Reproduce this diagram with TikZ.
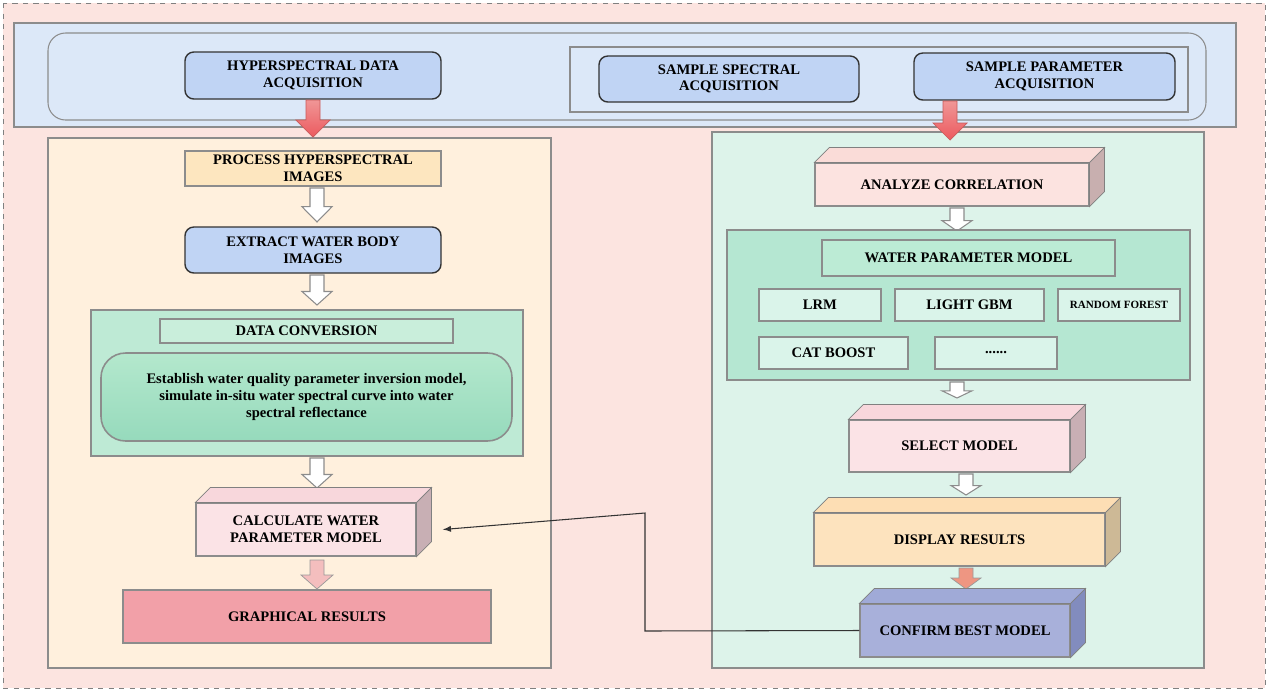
\documentclass[tikz,border=0pt]{standalone}
\usepackage{fontspec}
\setmainfont{Liberation Serif}
\definecolor{bgpink}{RGB}{252,228,224}
\definecolor{bandblue}{RGB}{220,232,248}
\definecolor{boxblue}{RGB}{192,212,244}
\definecolor{lpanel}{RGB}{255,240,221}
\definecolor{rpanel}{RGB}{221,243,234}
\definecolor{arrA}{RGB}{240,150,150}
\definecolor{arrB}{RGB}{236,90,95}
\definecolor{arrD}{RGB}{200,90,90}
\definecolor{phic}{RGB}{253,230,191}
\definecolor{dcp}{RGB}{190,234,213}
\definecolor{dct}{RGB}{201,238,219}
\definecolor{estA}{RGB}{180,232,205}
\definecolor{estB}{RGB}{150,218,188}
\definecolor{pinkF}{RGB}{251,227,230}
\definecolor{pinkT}{RGB}{248,215,220}
\definecolor{pinkS}{RGB}{200,175,180}
\definecolor{smallarr}{RGB}{244,190,190}
\definecolor{grc}{RGB}{242,160,168}
\definecolor{acF}{RGB}{252,227,224}
\definecolor{acT}{RGB}{250,220,216}
\definecolor{acS}{RGB}{200,175,175}
\definecolor{wpmp}{RGB}{181,231,210}
\definecolor{wpmt}{RGB}{188,235,213}
\definecolor{mint}{RGB}{218,244,234}
\definecolor{drF}{RGB}{253,227,190}
\definecolor{drT}{RGB}{253,222,180}
\definecolor{drS}{RGB}{205,185,150}
\definecolor{orarr}{RGB}{238,150,130}
\definecolor{cbF}{RGB}{168,176,218}
\definecolor{cbT}{RGB}{160,170,215}
\definecolor{cbS}{RGB}{130,140,190}
\begin{document}
\begin{tikzpicture}[x=0.02cm,y=-0.02cm,font=\bfseries\fontsize{8.3}{9.5}\selectfont,
  bluebox/.style={draw=black!80,fill=boxblue,rounded corners=5pt,line width=0.8pt},
  flat/.style={draw=black!45,line width=0.6pt}]
\def\rect#1#2#3#4#5#6#7{\node[#6,minimum width=#3*0.02cm-#1*0.02cm,minimum height=#4*0.02cm-#2*0.02cm,align=center,inner sep=0pt] (#5) at ({(#1+#3)/2},{(#2+#4)/2}) {#7};}
\def\hollow#1#2#3{\filldraw[fill=white,draw=black!45,line width=0.6pt] (#1-7,#2)--(#1+7,#2)--(#1+7,{#3-(#3-#2)*0.45})--(#1+15,{#3-(#3-#2)*0.45})--(#1,#3)--(#1-15,{#3-(#3-#2)*0.45})--(#1-7,{#3-(#3-#2)*0.45})--cycle;}
\def\cub#1#2#3{\filldraw[fill=#2,draw=black!50] (#1.north west)--++(15,-15)-|([shift={(15,-15)}]#1.north east)--(#1.north east)--cycle;
 \filldraw[fill=#3,draw=black!50] (#1.north east)--++(15,-15)--([shift={(15,-15)}]#1.south east)--(#1.south east)--cycle;}
\useasboundingbox (0,0) rectangle (1269,691);
\draw[dashed,draw=black!50,fill=bgpink] (3,3) rectangle (1265,688);
\draw[flat,fill=bandblue] (14,23) rectangle (1236,127);
\draw[flat,rounded corners=10pt] (48,33) rectangle (1206,120);
\draw[flat,line width=0.9pt] (570,47) rectangle (1188,112);
\rect{185}{52}{441}{99}{hda}{bluebox}{HYPERSPECTRAL DATA\\ACQUISITION}
\rect{599}{56}{859}{102}{ssa}{bluebox}{SAMPLE SPECTRAL\\ACQUISITION}
\rect{914}{53}{1175}{100}{spa}{bluebox}{SAMPLE PARAMETER\\ACQUISITION}
% panels
\draw[flat,fill=lpanel] (48,138) rectangle (551,668);
\draw[flat,fill=rpanel] (712,132) rectangle (1204,668);
% big arrows
\shade[top color=arrA,bottom color=arrB,draw=arrD]
 (306,100)--(320,100)--(320,120)--(330,120)--(313,137)--(296,120)--(306,120)--cycle;
\shade[top color=arrA,bottom color=arrB,draw=arrD]
 (943,101)--(957,101)--(957,123)--(967,123)--(950,140)--(933,123)--(943,123)--cycle;
% left column
\rect{185}{151}{441}{186}{phi}{flat,fill=phic}{PROCESS HYPERSPECTRAL\\IMAGES}
\hollow{317}{188}{222}
\rect{185}{227}{441}{273}{ewb}{bluebox}{EXTRACT WATER BODY\\IMAGES}
\hollow{317}{275}{305}
\draw[flat,fill=dcp] (91,310) rectangle (523,456);
\rect{160}{319}{453}{343}{dc}{flat,fill=dct}{DATA CONVERSION}
\rect{101}{353}{512}{441}{est}{flat,rounded corners=14pt,line width=0.9pt,top color=estA,bottom color=estB}{Establish water quality parameter inversion model,\\simulate in-situ water spectral curve into water\\spectral reflectance}
\hollow{317}{458}{488}
\rect{196}{503}{416}{556}{cwp}{flat,fill=pinkF}{}
\cub{cwp}{pinkT}{pinkS}
\node[align=center] at (cwp) {CALCULATE WATER\\PARAMETER MODEL};
\filldraw[fill=smallarr,draw=black!40] (310,560)--(324,560)--(324,575)--(333,575)--(317,589)--(301,575)--(310,575)--cycle;
\rect{123}{590}{491}{643}{gr}{flat,fill=grc}{GRAPHICAL RESULTS}
% right column
\rect{815}{163}{1089}{206}{ac}{flat,fill=acF}{}
\cub{ac}{acT}{acS}
\node at (ac) {ANALYZE CORRELATION};
\hollow{957}{208}{231}
\draw[flat,fill=wpmp] (727,230) rectangle (1190,380);
\rect{822}{240}{1115}{276}{wpm}{flat,fill=wpmt}{WATER PARAMETER MODEL}
\rect{759}{289}{881}{321}{lrm}{flat,fill=mint}{LRM}
\rect{895}{289}{1044}{321}{lgbm}{flat,fill=mint}{LIGHT GBM}
\rect{1058}{289}{1180}{321}{rf}{flat,fill=mint,font=\bfseries\fontsize{6.3}{7}\selectfont}{RANDOM FOREST}
\rect{759}{337}{908}{369}{cb}{flat,fill=mint}{CAT BOOST}
\rect{935}{337}{1057}{369}{dots}{flat,fill=mint}{......}
\hollow{957}{382}{398}
\rect{849}{420}{1070}{472}{sm}{flat,fill=pinkF}{}
\cub{sm}{pinkT}{pinkS}
\node at (sm) {SELECT MODEL};
\hollow{966}{474}{495}
\rect{814}{513}{1105}{566}{dr}{flat,fill=drF}{}
\cub{dr}{drT}{drS}
\node at (dr) {DISPLAY RESULTS};
\filldraw[fill=orarr,draw=black!40] (959,568)--(973,568)--(973,578)--(981,578)--(966,589)--(951,578)--(959,578)--cycle;
\rect{860}{604}{1070}{657}{cbm}{flat,fill=cbF}{}
\cub{cbm}{cbT}{cbS}
\node at (cbm) {CONFIRM BEST MODEL};
\coordinate (k1) at (645,631);
\coordinate (k2) at (645,513);
\draw[-latex,black!80,line width=0.6pt] (cbm.west)--(k1)--(k2)--([xshift=15]cwp.east);
\end{tikzpicture}
\end{document}
